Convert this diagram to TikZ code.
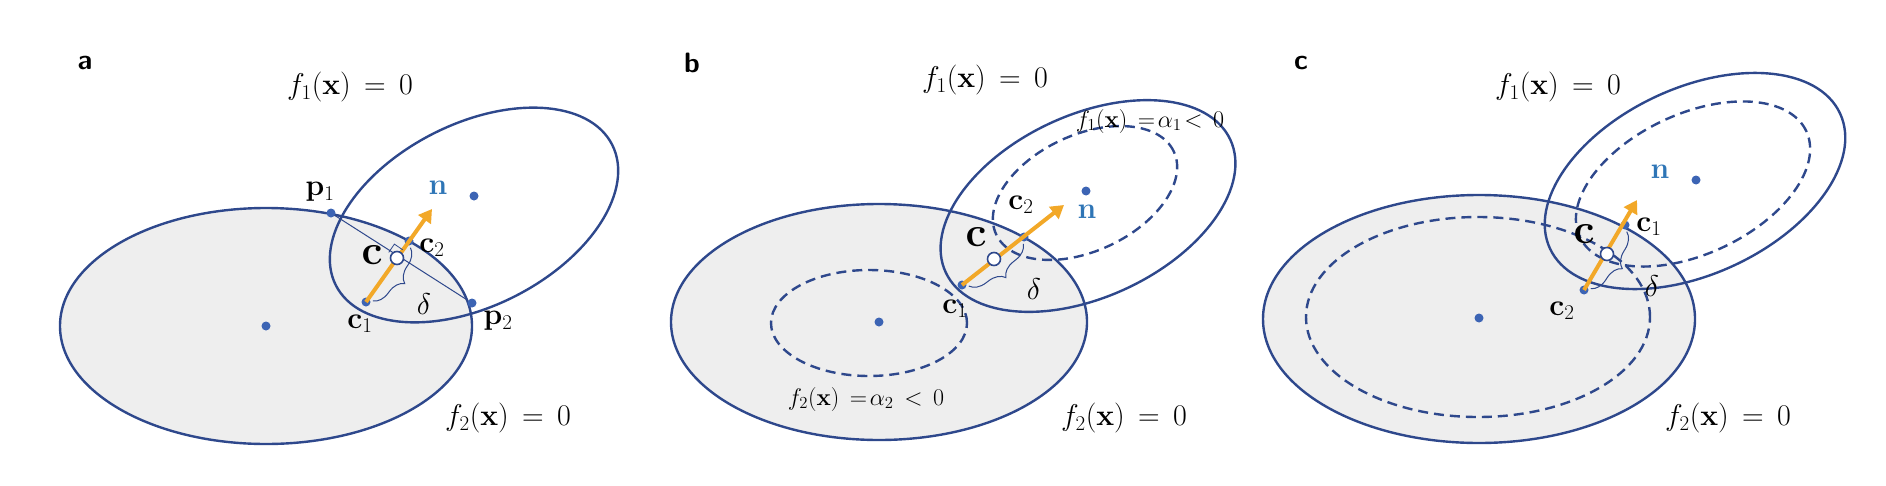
\RequirePackage{fix-cm}
\documentclass[tikz,border=0pt]{standalone}
\usepackage{amsmath}
\usetikzlibrary{decorations.pathreplacing,calc,arrows.meta}
\definecolor{eb}{RGB}{46,72,140}
\definecolor{fillg}{RGB}{238,238,238}
\definecolor{org}{RGB}{242,168,40}
\definecolor{nb}{RGB}{46,117,182}
\definecolor{dotb}{RGB}{60,100,180}
\tikzset{
 ell/.style={draw=eb,line width=2.4pt},
 dell/.style={draw=eb,line width=2.4pt,dash pattern=on 10pt off 6pt},
 dotn/.style={circle,fill=dotb,inner sep=0pt,minimum size=9pt},
 cnode/.style={circle,draw=eb,fill=white,line width=1.6pt,inner sep=0pt,minimum size=13pt},
 arr/.style={draw=org,line width=4pt,-{Triangle[length=13pt,width=15pt]}},
 lbl/.style={font=\fontsize{30}{34}\selectfont},
 clbl/.style={font=\fontsize{42}{46}\selectfont},
 slbl/.style={font=\fontsize{24}{28}\selectfont},
 panel/.style={font=\sffamily\bfseries\fontsize{28}{32}\selectfont},
 brc/.style={draw=eb,line width=1pt,decorate,decoration={brace,amplitude=16pt,raise=5pt}},
 chord/.style={draw=eb,line width=1pt}
}
\begin{document}
\begin{tikzpicture}[x=1pt,y=-1pt]
\useasboundingbox (0,0) rectangle (1886,485);
% ---------- panel a
\node[panel] (la) at (85,63) {a};
\fill[fillg] (266,326) ellipse [x radius=206pt,y radius=118pt];
\draw[ell] (266,326) ellipse [x radius=206pt,y radius=118pt];
\draw[ell,rotate around={27:(474,215)}] (474,215) ellipse [x radius=155pt,y radius=91pt];
\node[dotn] (ca1) at (266,326) {};
\node[dotn] (ca2) at (474,196) {};
\node[dotn] (p1) at (331,213) {};
\node[dotn] (p2) at (472,303) {};
\draw[chord] (p1) -- (p2);
\coordinate (tipa) at (432,209);
\node[dotn] (c1a) at (366,302) {};
\node[dotn] (c2a) at (409,241) {};
\draw[arr] (c1a.center) -- (tipa);
\node[cnode] (ca) at (397,258) {};
\draw[eb,line width=0.8pt] ($(ca)!10pt!(p1)$) -- ($($(ca)!10pt!(p1)$)!10pt!90:(ca)$) -- ($(ca)!10pt!(tipa)$);
\draw[brc] (c2a) -- (c1a);
\node[lbl,text=nb] (na) at (438,188) {$\mathbf{n}$};
\node[lbl] (lp1) at (320,192) {$\mathbf{p}_1$};
\node[lbl] (lp2) at (498,321) {$\mathbf{p}_2$};
\node[lbl] (lc1a) at (360,324) {$\mathbf{c}_1$};
\node[lbl] (lc2a) at (432,248) {$\mathbf{c}_2$};
\node[clbl] (lca) at (372,255) {$\mathbf{c}$};
\node[lbl] (da) at (424,304) {$\delta$};
\node[lbl] (f1a) at (350,87) {$f_1(\mathbf{x})\,=\,0$};
\node[lbl] (f2a) at (508,418) {$f_2(\mathbf{x})\,=\,0$};
% ---------- panel b
\node[panel] (lb) at (692,63) {b};
\fill[fillg] (879,322) ellipse [x radius=208pt,y radius=118pt];
\draw[ell] (879,322) ellipse [x radius=208pt,y radius=118pt];
\draw[dell] (869,323) ellipse [x radius=98pt,y radius=53pt];
\draw[ell,rotate around={25:(1088,206)}] (1088,206) ellipse [x radius=157pt,y radius=91pt];
\draw[dell,rotate around={25:(1085,193)}] (1085,193) ellipse [x radius=98pt,y radius=58pt];
\node[dotn] (cb1) at (879,322) {};
\node[dotn] (cb2) at (1086,191) {};
\coordinate (tipb) at (1064,205);
\node[dotn] (c1b) at (962,285) {};
\node[dotn] (c2b) at (1024,237) {};
\draw[arr] (c1b.center) -- (tipb);
\node[cnode] (cb) at (994,259) {};
\draw[brc] (c2b) -- (c1b);
\node[lbl,text=nb] (nb) at (1087,212) {$\mathbf{n}$};
\node[lbl] (lc1b) at (955,309) {$\mathbf{c}_1$};
\node[lbl] (lc2b) at (1021,205) {$\mathbf{c}_2$};
\node[clbl] (lcb) at (976,237) {$\mathbf{c}$};
\node[lbl] (db) at (1034,289) {$\delta$};
\node[lbl] (f1b) at (985,80) {$f_1(\mathbf{x})\,=\,0$};
\node[slbl] (a1b) at (1150,121) {$f_1(\mathbf{x})\,=\!\alpha_1\!<\,0$};
\node[slbl] (a2b) at (866,399) {$f_2(\mathbf{x})\,=\!\alpha_2\,<\,0$};
\node[lbl] (f2b) at (1124,418) {$f_2(\mathbf{x})\,=\,0$};
% ---------- panel c
\node[panel] (lc) at (1301,63) {c};
\fill[fillg] (1479,319) ellipse [x radius=216pt,y radius=124pt];
\draw[ell] (1479,319) ellipse [x radius=216pt,y radius=124pt];
\draw[dell] (1478,317) ellipse [x radius=172pt,y radius=100pt];
\draw[ell,rotate around={25:(1695,181)}] (1695,181) ellipse [x radius=160pt,y radius=93pt];
\draw[dell,rotate around={25:(1693,184)}] (1693,184) ellipse [x radius=125pt,y radius=70pt];
\node[dotn] (cc1) at (1479,318) {};
\node[dotn] (cc2) at (1696,180) {};
\coordinate (tipc) at (1637,200);
\node[dotn] (c1c) at (1625,225) {};
\node[dotn] (c2c) at (1584,290) {};
\draw[arr] (c2c.center) -- (tipc);
\node[cnode] (cc) at (1607,254) {};
\draw[brc] (c1c) -- (c2c);
\node[lbl,text=nb] (nc) at (1660,172) {$\mathbf{n}$};
\node[lbl] (lc1c) at (1649,227) {$\mathbf{c}_1$};
\node[lbl] (lc2c) at (1562,311) {$\mathbf{c}_2$};
\node[clbl] (lcc) at (1584,234) {$\mathbf{c}$};
\node[lbl] (dc) at (1652,286) {$\delta$};
\node[lbl] (f1c) at (1558,87) {$f_1(\mathbf{x})\,=\,0$};
\node[lbl] (f2c) at (1728,418) {$f_2(\mathbf{x})\,=\,0$};
\end{tikzpicture}
\end{document}
